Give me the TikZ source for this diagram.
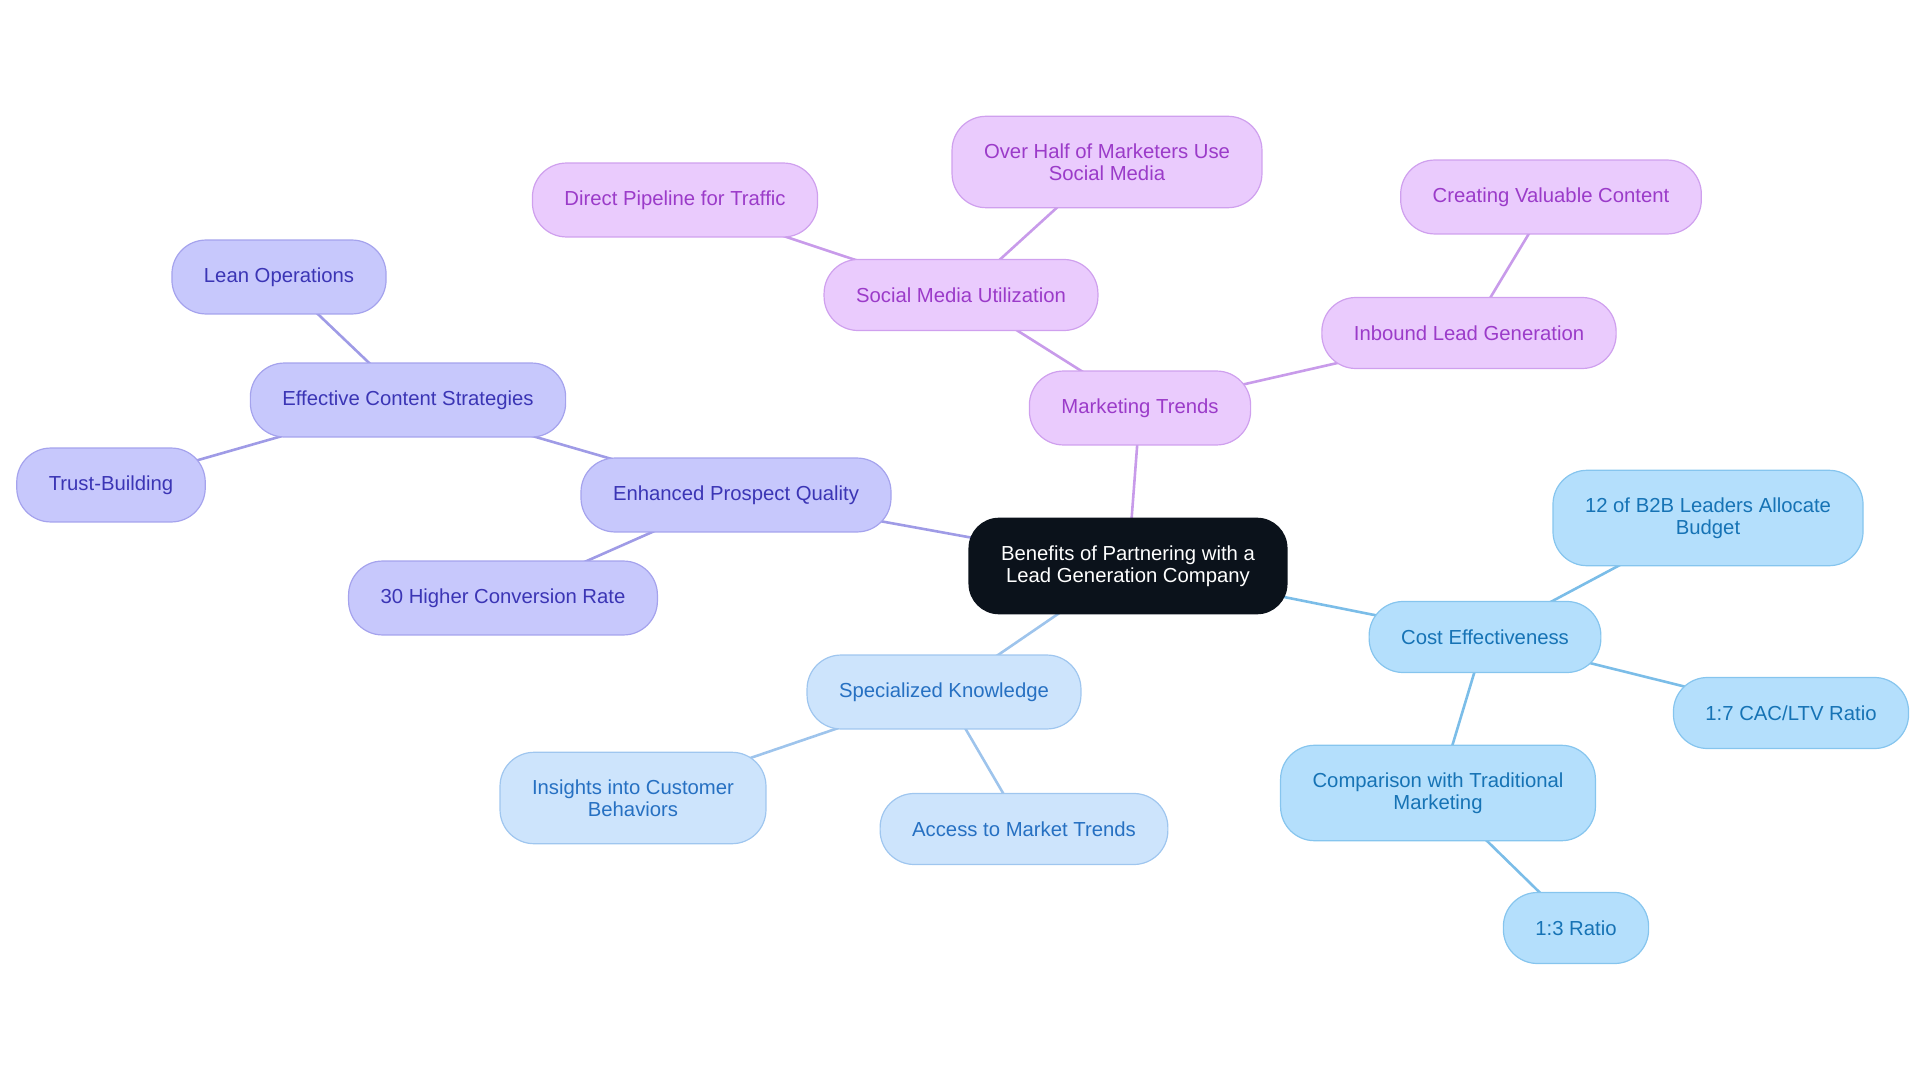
\documentclass[tikz,border=0pt]{standalone}
\usepackage{fontspec}
\setmainfont{Liberation Sans}
\usepackage{tikz}
\usetikzlibrary{backgrounds}

\definecolor{hubfill}{HTML}{0B121B}
\definecolor{violetfill}{HTML}{EACBFD}
\definecolor{violetdraw}{HTML}{CFA0EE}
\definecolor{violettext}{HTML}{9B3BC9}
\definecolor{violetline}{HTML}{C89BEA}
\definecolor{indigofill}{HTML}{C7C8FC}
\definecolor{indigodraw}{HTML}{A5A3ED}
\definecolor{indigotext}{HTML}{3B35B5}
\definecolor{indigoline}{HTML}{9F9BE6}
\definecolor{palefill}{HTML}{CDE4FC}
\definecolor{paledraw}{HTML}{9FC6EF}
\definecolor{paletext}{HTML}{2670C2}
\definecolor{paleline}{HTML}{9EC4EC}
\definecolor{skyfill}{HTML}{B4DFFC}
\definecolor{skydraw}{HTML}{86C5EE}
\definecolor{skytext}{HTML}{1673B5}
\definecolor{skyline}{HTML}{7BBDE8}

\begin{document}
\begin{tikzpicture}[
        x=1pt, y=-1pt,
        topic/.style={rectangle, rounded corners=34pt, line width=1.2pt, minimum height=71pt, inner xsep=32pt, inner ysep=27.5pt, align=center, font=\fontsize{20.3}{21.5}\selectfont},
        hub/.style={topic, fill=hubfill, draw=hubfill, text=white, rounded corners=30pt},
        violetbox/.style={topic, fill=violetfill, draw=violetdraw, text=violettext},
        indigobox/.style={topic, fill=indigofill, draw=indigodraw, text=indigotext},
        palebox/.style={topic, fill=palefill, draw=paledraw, text=paletext},
        skybox/.style={topic, fill=skyfill, draw=skydraw, text=skytext},
        link/.style={line width=2.6pt}
    ]

    % canvas
    \useasboundingbox (0,0) rectangle (1920,1083);

    % Central topic
    \node[hub] (hub) at (1128,566) {Benefits of Partnering with a\\Lead Generation Company};

    % Marketing trends branch
    \node[violetbox] (trends) at (1140,408) {Marketing Trends};
    \node[violetbox] (social) at (961,295) {Social Media Utilization};
    \node[violetbox] (pipeline) at (675,200) {Direct Pipeline for Traffic};
    \node[violetbox] (marketers) at (1107,162) {Over Half of Marketers Use\\Social Media};
    \node[violetbox] (inbound) at (1469,333) {Inbound Lead Generation};
    \node[violetbox] (content) at (1551,197) {Creating Valuable Content};

    % Prospect quality branch
    \node[indigobox] (quality) at (736,495) {Enhanced Prospect Quality};
    \node[indigobox] (strategies) at (408,400) {Effective Content Strategies};
    \node[indigobox] (lean) at (279,277) {Lean Operations};
    \node[indigobox] (trust) at (111,485) {Trust-Building};
    \node[indigobox] (conversion) at (503,598) {30 Higher Conversion Rate};

    % Knowledge branch
    \node[palebox] (knowledge) at (944,692) {Specialized Knowledge};
    \node[palebox] (insights) at (633,798) {Insights into Customer\\Behaviors};
    \node[palebox] (access) at (1024,829) {Access to Market Trends};

    % Cost branch
    \node[skybox] (cost) at (1485,637) {Cost Effectiveness};
    \node[skybox] (leaders) at (1708,518) {12 of B2B Leaders Allocate\\Budget};
    \node[skybox] (cac) at (1791,713) {1:7 CAC/LTV Ratio};
    \node[skybox] (compare) at (1438,793) {Comparison with Traditional\\Marketing};
    \node[skybox] (ratio) at (1576,928) {1:3 Ratio};

    % Connectors (behind the boxes)
    \begin{scope}[on background layer]
        \draw[link, violetline] (hub.center) -- (trends.center);
        \draw[link, violetline] (trends.center) -- (social.center);
        \draw[link, violetline] (social.center) -- (pipeline.center);
        \draw[link, violetline] (social.center) -- (marketers.center);
        \draw[link, violetline] (trends.center) -- (inbound.center);
        \draw[link, violetline] (inbound.center) -- (content.center);

        \draw[link, indigoline] (hub.center) -- (quality.center);
        \draw[link, indigoline] (quality.center) -- (strategies.center);
        \draw[link, indigoline] (strategies.center) -- (lean.center);
        \draw[link, indigoline] (strategies.center) -- (trust.center);
        \draw[link, indigoline] (quality.center) -- (conversion.center);

        \draw[link, paleline] (hub.center) -- (knowledge.center);
        \draw[link, paleline] (knowledge.center) -- (insights.center);
        \draw[link, paleline] (knowledge.center) -- (access.center);

        \draw[link, skyline] (hub.center) -- (cost.center);
        \draw[link, skyline] (cost.center) -- (leaders.center);
        \draw[link, skyline] (cost.center) -- (cac.center);
        \draw[link, skyline] (cost.center) -- (compare.center);
        \draw[link, skyline] (compare.center) -- (ratio.center);
    \end{scope}

\end{tikzpicture}
\end{document}
